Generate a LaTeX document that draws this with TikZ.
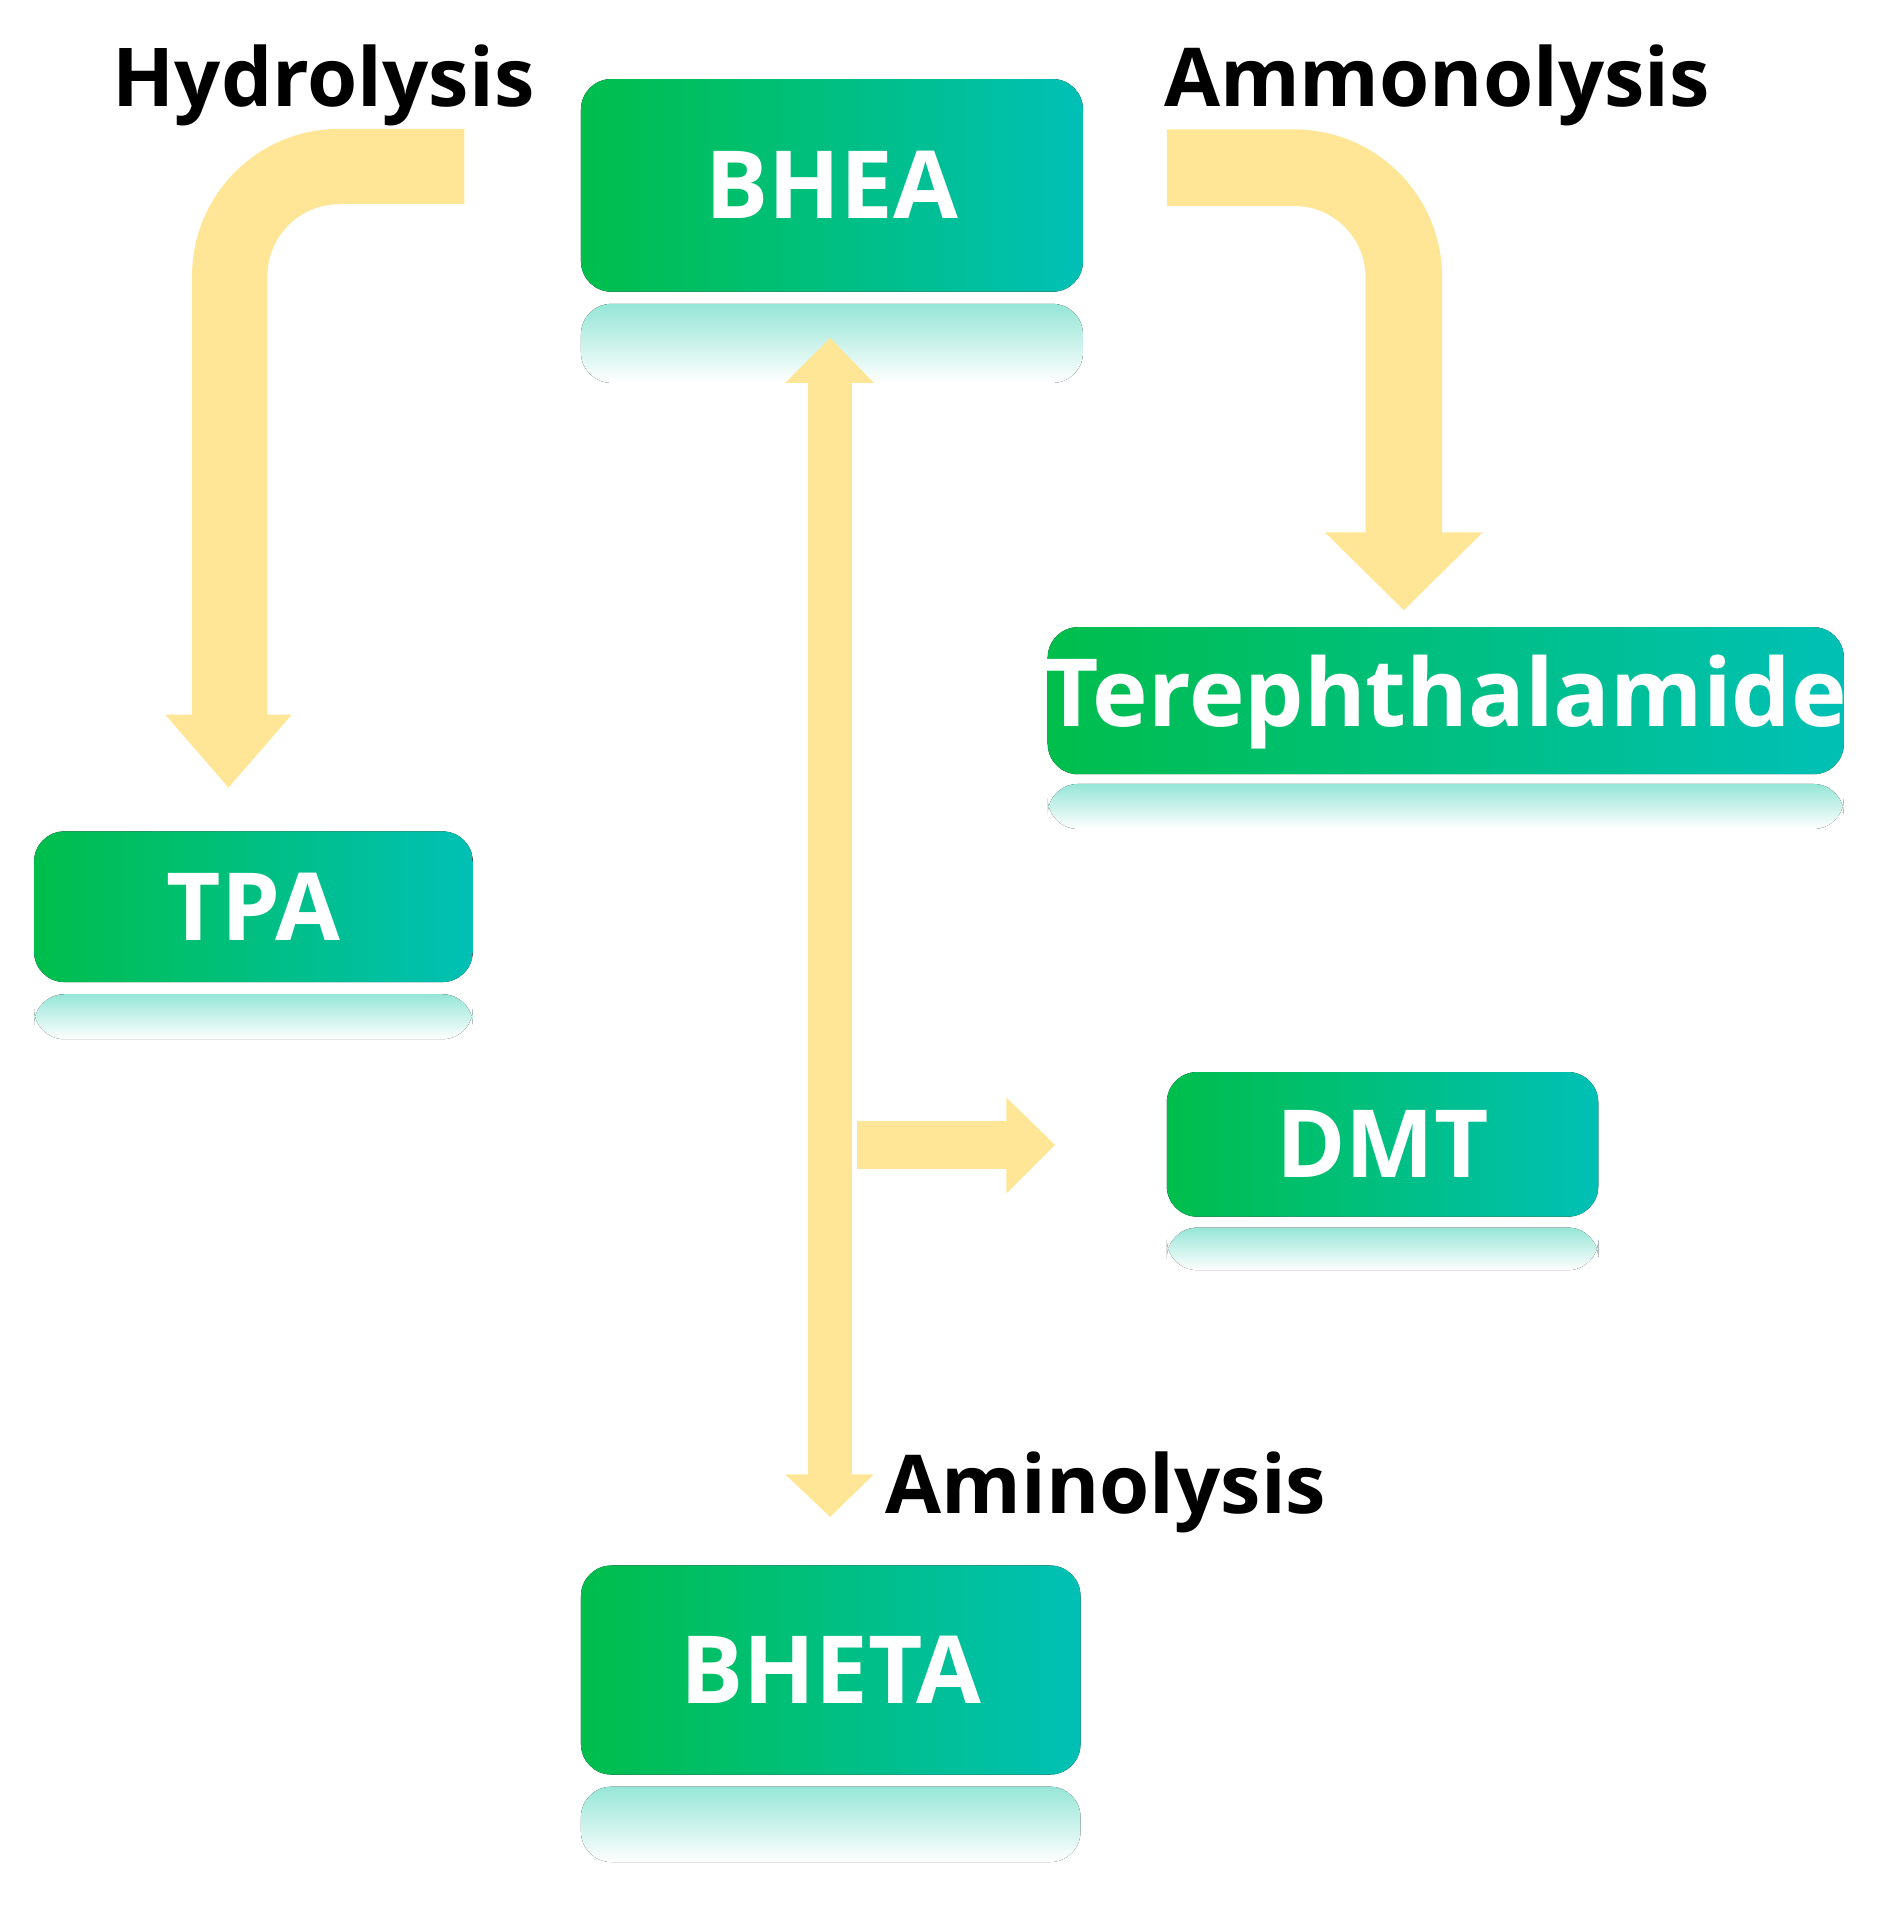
\documentclass[tikz,border=0pt]{standalone}
\usepackage{fontspec}
\setmainfont{Open Sans}
\begin{document}
\begin{tikzpicture}[x=0.01cm,y=-0.01cm,
  box/.style={rounded corners=22pt*0+0.25cm, left color={rgb,255:red,0;green,190;blue,75}, right color={rgb,255:red,0;green,192;blue,182}, draw=none},
  refl/.style={rounded corners=0.25cm, top color={rgb,255:red,150;green,230;blue,215}, bottom color=white, draw=none},
  lbl/.style={font=\bfseries\fontsize{22}{24}\selectfont, text=white},
  proc/.style={font=\bfseries\fontsize{19}{22}\selectfont, text=black, anchor=base west, inner sep=0},
  arr/.style={draw={rgb,255:red,255;green,230;blue,150}},
  head/.style={fill={rgb,255:red,255;green,230;blue,150}, draw=none}]
\useasboundingbox (0,0) rectangle (1547,1569);
% reflections
\fill[refl] (478,250) rectangle (891,315);
\fill[refl] (862,645) rectangle (1517,682);
\fill[refl] (28,818) rectangle (389,855);
\fill[refl] (960,1010) rectangle (1315,1045);
\fill[refl] (478,1470) rectangle (889,1532);
% boxes
\fill[box] (478,65) rectangle (891,240);
\node[lbl] (bhea) at (684.5,152) {BHEA};
\fill[box] (862,516) rectangle (1517,637);
\node[lbl] (ter) at (1189.5,578) {Terephthalamide};
\fill[box] (28,684) rectangle (389,808);
\node[lbl] (tpa) at (208.5,746) {TPA};
\fill[box] (960,882) rectangle (1315,1001);
\node[lbl] (dmt) at (1137.5,941) {DMT};
\fill[box] (478,1288) rectangle (889,1460);
\node[lbl] (bheta) at (683.5,1374) {BHETA};
% labels
\node[proc] (hyd) at (92,88) {Hydrolysis};
\node[proc] (amm) at (957,88) {Ammonolysis};
\node[proc] (ami) at (728,1245) {Aminolysis};
% hydrolysis arrow
\coordinate (h1) at (382,137);
\coordinate (h2) at (189,137);
\coordinate (h3) at (189,592);
\draw[arr, line width=0.62cm, rounded corners=0.9cm] (h1) -- (h2) -- (h3);
\fill[head] (136,588) -- (240,588) -- (188,648) -- cycle;
% ammonolysis arrow
\coordinate (a1) at (960,138);
\coordinate (a2) at (1155,138);
\coordinate (a3) at (1155,442);
\draw[arr, line width=0.63cm, rounded corners=0.9cm] (a1) -- (a2) -- (a3);
\fill[head] (1090,438) -- (1220,438) -- (1155,502) -- cycle;
% vertical double arrow
\coordinate (v1) at (683,313);
\coordinate (v2) at (683,1215);
\draw[arr, line width=0.36cm] (v1) -- (v2);
\fill[head] (646,315) -- (719,315) -- (683,278) -- cycle;
\fill[head] (646,1213) -- (719,1213) -- (683,1248) -- cycle;
% branch to DMT
\coordinate (b1) at (705,942);
\coordinate (b2) at (830,942);
\draw[arr, line width=0.40cm] (b1) -- (b2);
\fill[head] (828,903) -- (868,942) -- (828,982) -- cycle;
\end{tikzpicture}
\end{document}
